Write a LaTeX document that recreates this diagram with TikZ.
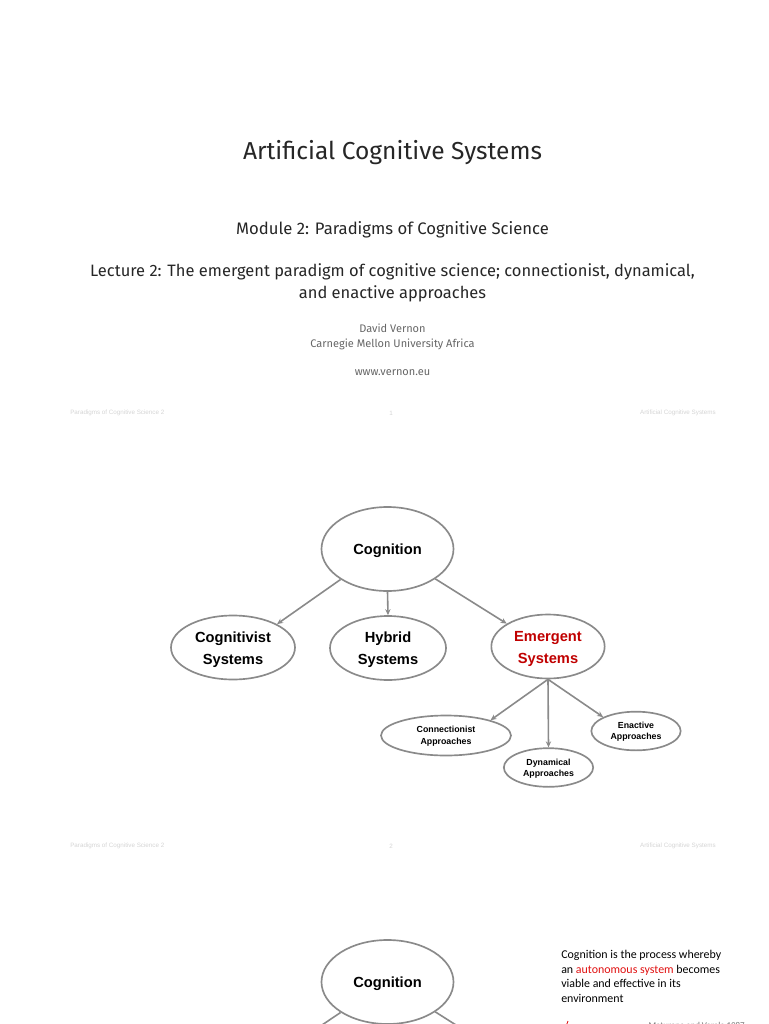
\documentclass[tikz,border=0pt]{standalone}
\usepackage{fontspec}
\setmainfont{Liberation Sans}
\newfontfamily\slidefont{Fira Sans}
\newfontfamily\notefont{Carlito}
\usetikzlibrary{shapes.geometric,arrows.meta}
\definecolor{linegray}{HTML}{8A8A8A}
\definecolor{redtxt}{HTML}{C00000}
\definecolor{notered}{HTML}{E01010}
\definecolor{footgray}{HTML}{D4D4D4}
\definecolor{authgray}{HTML}{666666}
\newcommand{\ovalstrut}{\rule{0pt}{11pt}}
\newcommand{\smallstrut}{\rule{0pt}{6.4pt}}
\tikzset{
	bubble/.style={ellipse,draw=linegray,line width=1.25pt,inner sep=0pt,align=center,font=\bfseries},
	link/.style={draw=linegray,line width=1.2pt,-{Stealth[length=4.5pt,width=4pt]}},
	slidetxt/.style={inner sep=0pt,align=center,font=\slidefont},
	foot/.style={inner sep=0pt,text=footgray,font=\fontsize{4.7}{5}\selectfont}
}
\begin{document}
\begin{tikzpicture}[x=0.75pt,y=-0.75pt]
	\clip (0,0) rectangle (768,1024);
	% title slide
	\node[slidetxt,font=\slidefont\fontsize{18.4}{22}\selectfont,text=black!85] (title) at (392.5,153) {Artificial Cognitive Systems};
	\node[slidetxt,font=\slidefont\fontsize{12.5}{14}\selectfont,text=black!85] (module) at (392.5,229.5) {Module 2: Paradigms of Cognitive Science};
	\node[slidetxt,font=\slidefont\fontsize{12.35}{16.3}\selectfont,text=black!85] (lecture) at (392.5,283) {Lecture 2: The emergent paradigm of cognitive science; connectionist, dynamical,\\and enactive approaches};
	\node[slidetxt,font=\slidefont\fontsize{8.25}{11}\selectfont,text=authgray] (author) at (392.5,337) {David Vernon\\Carnegie Mellon University Africa};
	\node[slidetxt,font=\slidefont\fontsize{8.25}{10}\selectfont,text=authgray] (web) at (392.5,373) {www.vernon.eu};
	\node[foot,anchor=west] (foota) at (70,413) {Paradigms of Cognitive Science 2};
	\node[foot] (numa) at (391,413) {1};
	\node[foot,anchor=east] (sysa) at (716,413) {Artificial Cognitive Systems};
	% second slide
	\node[bubble,minimum width=99pt,minimum height=63pt,font=\bfseries\fontsize{11}{13}\selectfont] (cognition) at (387.5,549) {\ovalstrut Cognition};
	\node[bubble,minimum width=93pt,minimum height=48pt,font=\bfseries\fontsize{11}{16.5}\selectfont] (cognitivist) at (233,647.5) {\ovalstrut Cognitivist\\Systems};
	\node[bubble,minimum width=87pt,minimum height=48pt,font=\bfseries\fontsize{11}{16.5}\selectfont] (hybrid) at (388,648) {\ovalstrut Hybrid\\Systems};
	\node[bubble,minimum width=85pt,minimum height=48pt,font=\bfseries\fontsize{11}{16.5}\selectfont,text=redtxt] (emergent) at (548,646.5) {\ovalstrut Emergent\\Systems};
	\node[bubble,minimum width=97.5pt,minimum height=30pt,font=\bfseries\fontsize{6.6}{9}\selectfont] (connectionist) at (446,735.5) {\smallstrut Connectionist\\Approaches};
	\node[bubble,minimum width=67pt,minimum height=29pt,font=\bfseries\fontsize{6.6}{8.3}\selectfont] (dynamical) at (548.5,767.5) {\smallstrut Dynamical\\Approaches};
	\node[bubble,minimum width=67pt,minimum height=29pt,font=\bfseries\fontsize{6.6}{8.3}\selectfont] (enactive) at (636,731) {\smallstrut Enactive\\Approaches};
	\draw[link] (cognition.213) -- (cognitivist.28);
	\draw[link] (cognition.south) -- (hybrid.north);
	\draw[link] (cognition.-32) -- (emergent.151);
	\draw[link] (emergent.south) -- (connectionist.19);
	\draw[link] (emergent.south) -- (dynamical.north);
	\draw[link] (emergent.south) -- (enactive.157);
	\node[foot,anchor=west] (footb) at (70,846) {Paradigms of Cognitive Science 2};
	\node[foot] (numb) at (391,846) {2};
	\node[foot,anchor=east] (sysb) at (716,846) {Artificial Cognitive Systems};
	% third slide, cut by the page
	\node[bubble,minimum width=99pt,minimum height=63pt,font=\bfseries\fontsize{11}{13}\selectfont] (cognitionb) at (387.5,982) {\ovalstrut Cognition};
	\coordinate (cuta) at (322,1025);
	\coordinate (cutb) at (456,1025);
	\draw[draw=linegray,line width=1.2pt] (cognitionb.213) -- (cuta);
	\draw[draw=linegray,line width=1.2pt] (cognitionb.-32) -- (cutb);
	\node[anchor=north west,inner sep=0pt,align=left,font=\notefont\fontsize{8.95}{10.9}\selectfont] (quote) at (561,950) {Cognition is the process whereby\\an {\color{notered}autonomous system} becomes\\viable and effective in its\\environment};
	\node[anchor=east,inner sep=0pt,text=black!55,font=\notefont\fontsize{6.7}{8}\selectfont] (cite) at (745,1025) {Maturana and Varela 1987};
	\coordinate (marka) at (568,1021);
	\coordinate (markb) at (566.5,1025);
	\draw[notered,line width=0.6pt] (marka) -- (markb);
\end{tikzpicture}
\end{document}
